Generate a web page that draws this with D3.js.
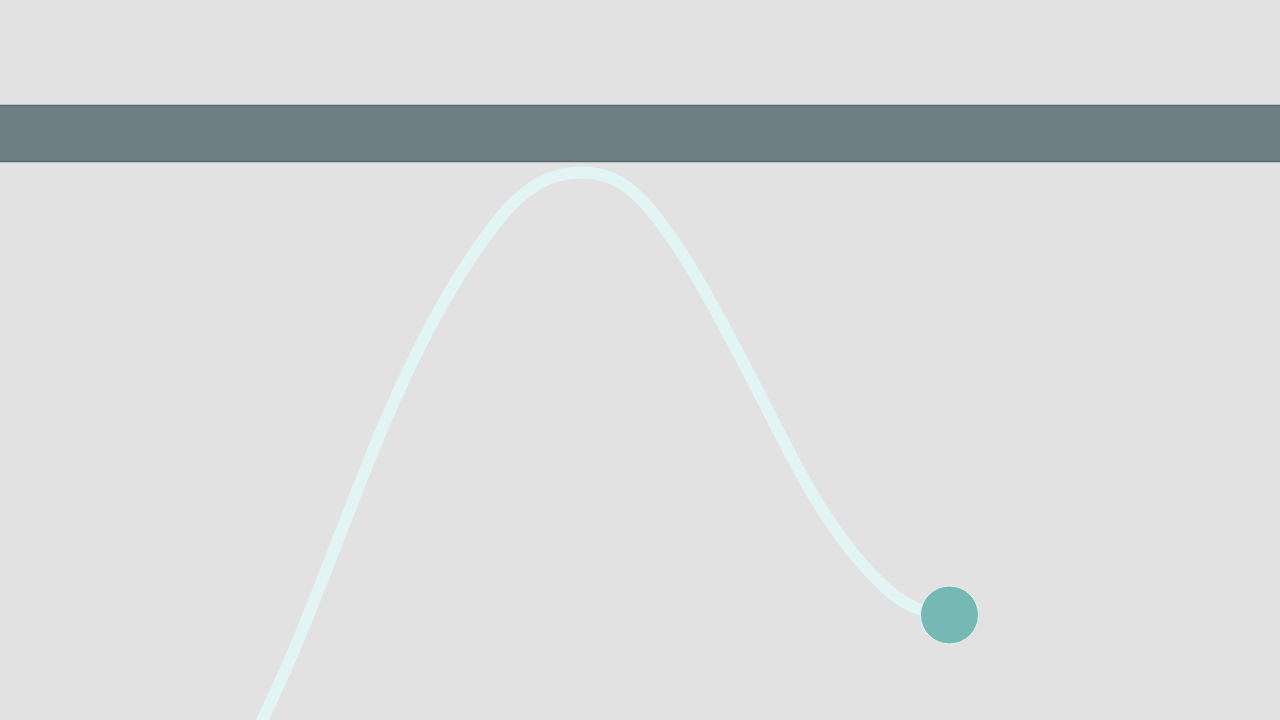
<!DOCTYPE html>
<html>
<head>
<meta charset="utf-8">
<script src="https://cdn.jsdelivr.net/npm/d3@7"></script>
<style>
  html, body { margin: 0; padding: 0; background: #e2e2e2; overflow: hidden; }
  svg { display: block; }
</style>
</head>
<body>
<div id="chart"></div>
<script>
// curve samples (x: 0-100 across, y: 0-100 up)
var xs = [20.3, 22.7, 25.2, 27.6, 30.7, 34.6, 37.5, 39.6, 42.2, 45.3, 48.0, 50.2, 53.1, 55.5, 59.6, 63.5, 67.4, 71.1, 74.1];
var ys = [-1, 10.9, 25.5, 40, 58.2, 76.4, 86.6, 93.2, 98.4, 100, 98.8, 95.0, 85.8, 76.4, 58.2, 40, 27.6, 19.8, 19.1];

var width = 1280, height = 720;

var svg = d3.select("#chart").append("svg")
  .attr("width", width)
  .attr("height", height);

var x = d3.scaleLinear().domain([0, 100]).range([0, width]);
var y = d3.scaleLinear().domain([0, 100]).range([height, 170]);

svg.append("rect")
  .attr("width", width)
  .attr("height", height)
  .attr("fill", "#e2e2e2");

// dark header band
svg.append("rect")
  .attr("x", 0)
  .attr("y", 105)
  .attr("width", width)
  .attr("height", 57)
  .attr("fill", "#6d7e84");
svg.append("line")
  .attr("x1", 0).attr("x2", width)
  .attr("y1", 105.5).attr("y2", 105.5)
  .attr("stroke", "#5b6a6f").attr("stroke-width", 1.5);
svg.append("line")
  .attr("x1", 0).attr("x2", width)
  .attr("y1", 161.5).attr("y2", 161.5)
  .attr("stroke", "#5b6a6f").attr("stroke-width", 1.5);

var data = xs.map(function(d, i){ return {x: d, y: ys[i]}; });

var line = d3.line()
  .x(function(d){ return x(d.x); })
  .y(function(d){ return y(d.y); })
  .curve(d3.curveBasis);

svg.append("path")
  .datum(data)
  .attr("d", line)
  .attr("fill", "none")
  .attr("stroke", "#e2f4f4")
  .attr("stroke-width", 12)
  .attr("stroke-linecap", "round");

var last = data[data.length - 1];
svg.append("circle")
  .attr("cx", x(last.x) + 1)
  .attr("cy", y(last.y))
  .attr("r", 29)
  .attr("fill", "#76b8b3")
  .attr("stroke", "#e2f4f4")
  .attr("stroke-width", 1);
</script>
</body>
</html>
